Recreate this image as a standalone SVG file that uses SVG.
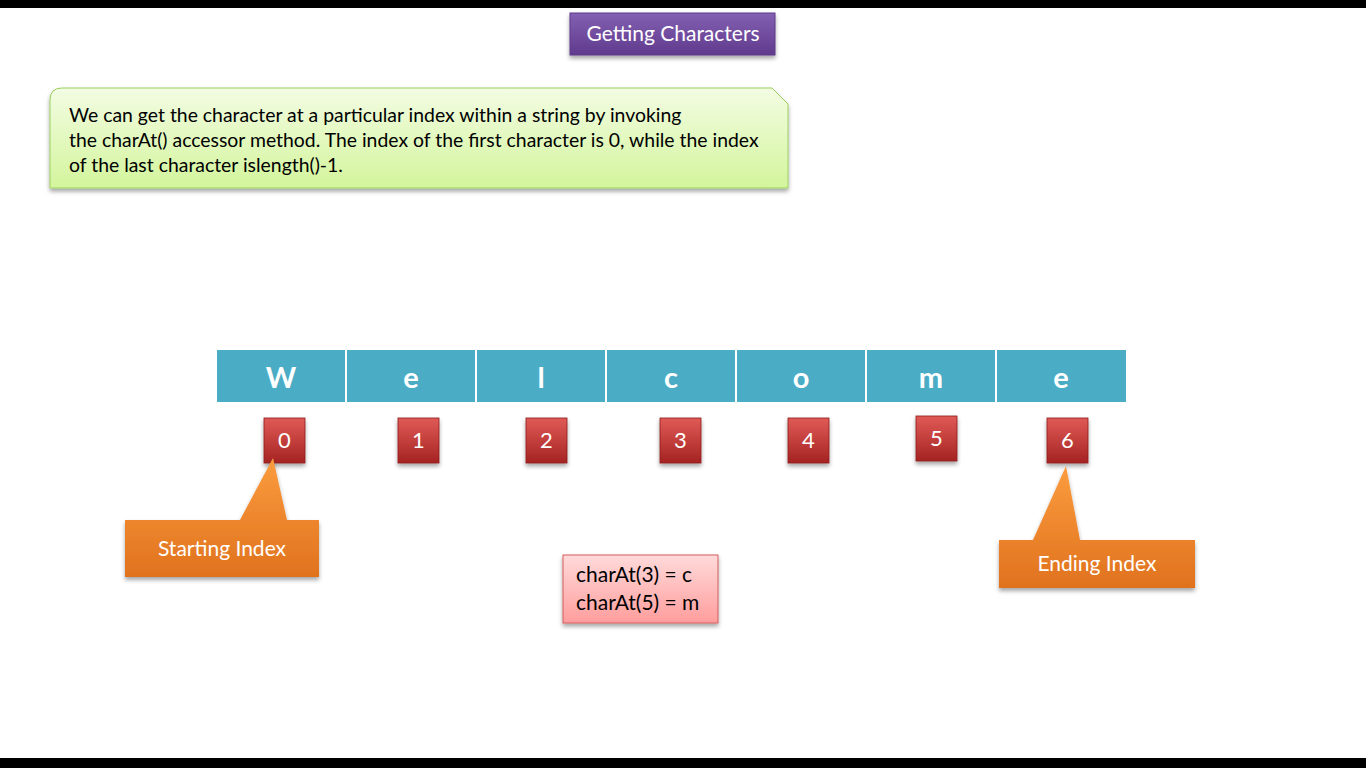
<svg xmlns="http://www.w3.org/2000/svg" width="1366" height="768" viewBox="0 0 1366 768">
<defs>
<style>
text{font-family:Lato,"Open Sans","Liberation Sans",sans-serif}
.w{fill:#fff}
.cell{fill:#4bacc6}
.let{font-size:29px;font-weight:bold;fill:#fff;text-anchor:middle}
.idx{font-size:22px;fill:#fff;text-anchor:middle}
.call{font-size:21px;fill:#fff;text-anchor:middle}
</style>
<linearGradient id="gP" x1="0" y1="0" x2="0" y2="1"><stop offset="0" stop-color="#8360b3"/><stop offset="1" stop-color="#603a8c"/></linearGradient>
<linearGradient id="gG" x1="0" y1="0" x2="0" y2="1"><stop offset="0" stop-color="#f3fce3"/><stop offset="1" stop-color="#d3f59c"/></linearGradient>
<linearGradient id="gR" x1="0" y1="0" x2="0" y2="1"><stop offset="0" stop-color="#e05a56"/><stop offset="1" stop-color="#a52322"/></linearGradient>
<linearGradient id="gO" x1="0" y1="0" x2="0" y2="1"><stop offset="0" stop-color="#fb9c3e"/><stop offset="1" stop-color="#e0721e"/></linearGradient>
<linearGradient id="gK" x1="0" y1="0" x2="0" y2="1"><stop offset="0" stop-color="#ffdada"/><stop offset="1" stop-color="#ff9d9d"/></linearGradient>
<filter id="sh" x="-20%" y="-20%" width="140%" height="150%"><feDropShadow dx="0" dy="3" stdDeviation="2" flood-color="#000" flood-opacity="0.35"/></filter>
</defs>
<rect x="0" y="0" width="1366" height="768" fill="#fff"/>
<rect x="0" y="0" width="1366" height="8" fill="#000"/>
<rect x="0" y="758" width="1366" height="10" fill="#000"/>

<g id="title">
<rect x="570" y="13" width="205" height="42" fill="url(#gP)" stroke="#5e3b8a" stroke-width="1" filter="url(#sh)"/>
<text x="673" y="41" font-size="21" class="w" text-anchor="middle">Getting Characters</text>
</g>

<g id="description">
<path d="M62,88 H772 L788,104 V188 H50 V100 Q50,88 62,88 Z" fill="url(#gG)" stroke="#9ccf62" stroke-width="1" filter="url(#sh)"/>
<text font-size="19.4" fill="#000">
<tspan x="69" y="122">We can get the character at a particular index within a string by invoking</tspan>
<tspan x="69" y="147">the charAt() accessor method. The index of the first character is 0, while the index</tspan>
<tspan x="69" y="172">of the last character islength()-1.</tspan>
</text>
</g>

<g id="cells">
<rect class="cell" x="217" y="350" width="128" height="52"/>
<rect class="cell" x="347" y="350" width="128" height="52"/>
<rect class="cell" x="477" y="350" width="128" height="52"/>
<rect class="cell" x="607" y="350" width="128" height="52"/>
<rect class="cell" x="737" y="350" width="128" height="52"/>
<rect class="cell" x="867" y="350" width="128" height="52"/>
<rect class="cell" x="997" y="350" width="129" height="52"/>
<text class="let" x="281" y="388">W</text>
<text class="let" x="411" y="388">e</text>
<text class="let" x="541" y="388">l</text>
<text class="let" x="671" y="388">c</text>
<text class="let" x="801" y="388">o</text>
<text class="let" x="931" y="388">m</text>
<text class="let" x="1061" y="388">e</text>
</g>

<g id="indices">
<g id="i0"><rect x="264" y="418" width="41" height="45" fill="url(#gR)" stroke="#8c1c1c" stroke-width="0.8" filter="url(#sh)"/><text class="idx" x="284.5" y="448">0</text></g>
<g id="i1"><rect x="398" y="418" width="41" height="45" fill="url(#gR)" stroke="#8c1c1c" stroke-width="0.8" filter="url(#sh)"/><text class="idx" x="418.5" y="448">1</text></g>
<g id="i2"><rect x="526" y="418" width="41" height="45" fill="url(#gR)" stroke="#8c1c1c" stroke-width="0.8" filter="url(#sh)"/><text class="idx" x="546.5" y="448">2</text></g>
<g id="i3"><rect x="660" y="418" width="41" height="45" fill="url(#gR)" stroke="#8c1c1c" stroke-width="0.8" filter="url(#sh)"/><text class="idx" x="680.5" y="448">3</text></g>
<g id="i4"><rect x="788" y="418" width="41" height="45" fill="url(#gR)" stroke="#8c1c1c" stroke-width="0.8" filter="url(#sh)"/><text class="idx" x="808.5" y="448">4</text></g>
<g id="i5"><rect x="916" y="416" width="41" height="45" fill="url(#gR)" stroke="#8c1c1c" stroke-width="0.8" filter="url(#sh)"/><text class="idx" x="936.5" y="446">5</text></g>
<g id="i6"><rect x="1047" y="418" width="41" height="45" fill="url(#gR)" stroke="#8c1c1c" stroke-width="0.8" filter="url(#sh)"/><text class="idx" x="1067.5" y="448">6</text></g>
</g>

<g id="starting">
<path d="M125,520 H240 L273,458 L287,520 H319 V577 H125 Z" fill="url(#gO)" filter="url(#sh)"/>
<text class="call" x="222" y="556">Starting Index</text>
</g>

<g id="ending">
<path d="M999,540 H1033 L1066,466 L1080,540 H1195 V588 H999 Z" fill="url(#gO)" filter="url(#sh)"/>
<text class="call" x="1097" y="571">Ending Index</text>
</g>

<g id="examples">
<rect x="563" y="555" width="155" height="68" fill="url(#gK)" stroke="#d45c5c" stroke-width="1" filter="url(#sh)"/>
<text font-size="21" fill="#000"><tspan x="576" y="582">charAt(3) = c</tspan><tspan x="576" y="610">charAt(5) = m</tspan></text>
</g>
</svg>
